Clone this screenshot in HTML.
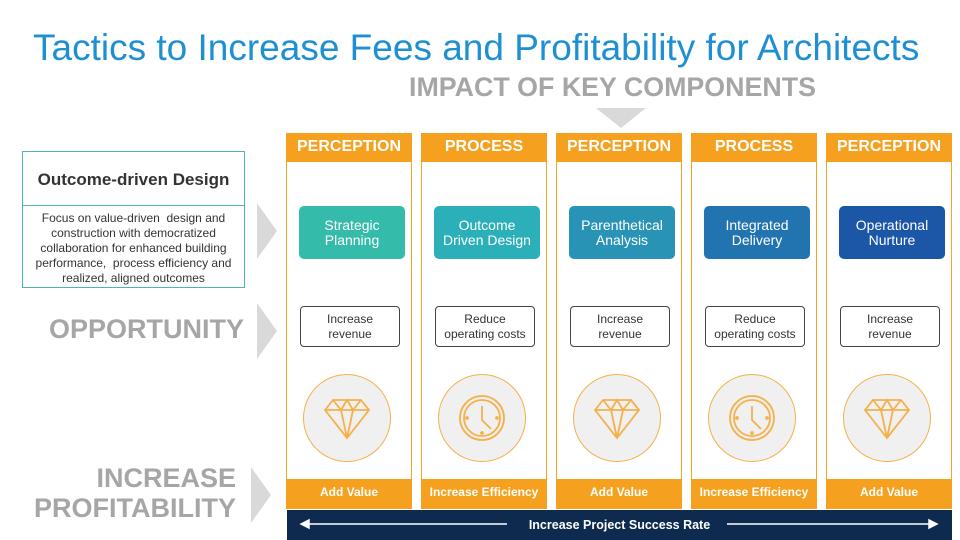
<!DOCTYPE html>
<html><head><style>
body{margin:0;width:960px;height:540px;background:#fff;position:relative;overflow:hidden;font-family:"Liberation Sans",sans-serif}
.a{position:absolute}
.col{position:absolute;top:133px;width:126px;height:376px;border:1px solid #f5a623;box-sizing:border-box;background:#fff}
.hd{position:absolute;left:-1px;top:-1px;width:126px;height:29px;background:#f5a11f;color:#fff;font-weight:bold;font-size:16px;text-align:center;line-height:27px}
.ft{position:absolute;left:-1px;bottom:-1px;width:126px;height:30px;background:#f5a11f;color:#fff;font-weight:bold;font-size:12px;text-align:center;line-height:26px}
.bx{position:absolute;left:12px;top:72px;width:106px;height:53px;border-radius:5px;color:#fff;font-size:14px;text-align:center;display:flex;align-items:center;justify-content:center;line-height:15px}
.tb{position:absolute;left:13px;top:172px;width:100px;height:41px;border:1px solid #444;border-radius:4px;box-sizing:border-box;font-size:12px;color:#333;text-align:center;display:flex;align-items:center;justify-content:center;line-height:15px}
.ci{position:absolute;left:16px;top:240px;width:88px;height:88px;border-radius:50%;background:#f0f0f0;border:1.5px solid #f5b04a;box-sizing:border-box}
.gl{position:absolute;color:#a6a6a6;font-weight:bold;text-align:right}
.tri{position:absolute;width:0;height:0;border-top:28px solid transparent;border-bottom:28px solid transparent;border-left:20px solid #d9d9d9}
</style></head><body>
<div class="a" style="left:33px;top:27px;font-size:37px;color:#1e90d2;white-space:nowrap">Tactics to Increase Fees and Profitability for Architects</div>
<div class="a" style="left:409px;top:72px;font-size:26.8px;font-weight:bold;color:#a6a6a6;white-space:nowrap">IMPACT OF KEY COMPONENTS</div>
<div class="a" style="left:596px;top:108px;width:0;height:0;border-left:25px solid transparent;border-right:25px solid transparent;border-top:20px solid #d9d9d9"></div>

<div class="a" style="left:22px;top:151px;width:223px;height:137px;border:1px solid #4db6b0;box-sizing:border-box">
<div style="height:53px;border-bottom:1px solid #4db6b0;font-weight:bold;font-size:17px;color:#333;text-align:center;line-height:56px">Outcome-driven Design</div>
<div style="font-size:12px;color:#333;text-align:center;line-height:15px;padding:5px 6px 0">Focus on value-driven&nbsp; design and construction with democratized collaboration for enhanced building performance,&nbsp; process efficiency and realized, aligned outcomes</div></div>
<div class="tri" style="left:257px;top:203px"></div>
<div class="tri" style="left:257px;top:303px"></div>
<div class="tri" style="left:251px;top:467px"></div>
<div class="gl" style="left:20px;top:314px;width:224px;font-size:27px">OPPORTUNITY</div>
<div class="gl" style="left:20px;top:463px;width:216px;font-size:27px;line-height:30px">INCREASE<br>PROFITABILITY</div>

<svg width="0" height="0" style="position:absolute"><defs>
<g id="dia" fill="none" stroke="#f5b04a" stroke-width="1.8"><path d="M-22,-8 L-14,-18 L14,-18 L22,-8 L0,20 Z M-22,-8 L22,-8 M-14,-18 L-6,-8 L0,20 L6,-8 L14,-18 M-6,-8 L0,-18 L6,-8"/></g>
<g id="clk" fill="none" stroke="#f5b04a" stroke-width="1.8"><circle r="22"/><circle r="18"/><path d="M0,-12 V2 L9,11"/><circle cx="-15" r="1"/><circle cx="15" r="1"/><circle cy="15" r="1"/></g>
</defs></svg>

<div class="col" style="left:286px"><div class="hd">PERCEPTION</div><div class="bx" style="background:#35bba9">Strategic<br>Planning</div><div class="tb">Increase<br>revenue</div><div class="ci"><svg width="88" height="88" style="position:absolute;left:-1px;top:-1px"><use href="#dia" x="44" y="44"/></svg></div><div class="ft">Add Value</div></div>
<div class="col" style="left:421px"><div class="hd">PROCESS</div><div class="bx" style="background:#2bafb8">Outcome<br>Driven Design</div><div class="tb">Reduce<br>operating costs</div><div class="ci"><svg width="88" height="88" style="position:absolute;left:-1px;top:-1px"><use href="#clk" x="44" y="44"/></svg></div><div class="ft">Increase Efficiency</div></div>
<div class="col" style="left:556px"><div class="hd">PERCEPTION</div><div class="bx" style="background:#2893b5">Parenthetical<br>Analysis</div><div class="tb">Increase<br>revenue</div><div class="ci"><svg width="88" height="88" style="position:absolute;left:-1px;top:-1px"><use href="#dia" x="44" y="44"/></svg></div><div class="ft">Add Value</div></div>
<div class="col" style="left:691px"><div class="hd">PROCESS</div><div class="bx" style="background:#2274b0">Integrated<br>Delivery</div><div class="tb">Reduce<br>operating costs</div><div class="ci"><svg width="88" height="88" style="position:absolute;left:-1px;top:-1px"><use href="#clk" x="44" y="44"/></svg></div><div class="ft">Increase Efficiency</div></div>
<div class="col" style="left:826px"><div class="hd">PERCEPTION</div><div class="bx" style="background:#1c56a7">Operational<br>Nurture</div><div class="tb">Increase<br>revenue</div><div class="ci"><svg width="88" height="88" style="position:absolute;left:-1px;top:-1px"><use href="#dia" x="44" y="44"/></svg></div><div class="ft">Add Value</div></div>

<div class="a" style="left:287px;top:510px;width:665px;height:30px;background:#0e2a4f">
<svg width="665" height="30" style="position:absolute;left:0;top:0"><g stroke="#fff" stroke-width="1.5" fill="#fff"><line x1="18" y1="14" x2="220" y2="14"/><path d="M14,14 L22,10 L22,18Z"/><line x1="440" y1="14" x2="645" y2="14"/><path d="M650,14 L642,10 L642,18Z"/></g></svg>
<div style="position:absolute;left:0;width:665px;text-align:center;color:#fff;font-weight:bold;font-size:12.5px;line-height:30px">Increase Project Success Rate</div></div>
</body></html>
